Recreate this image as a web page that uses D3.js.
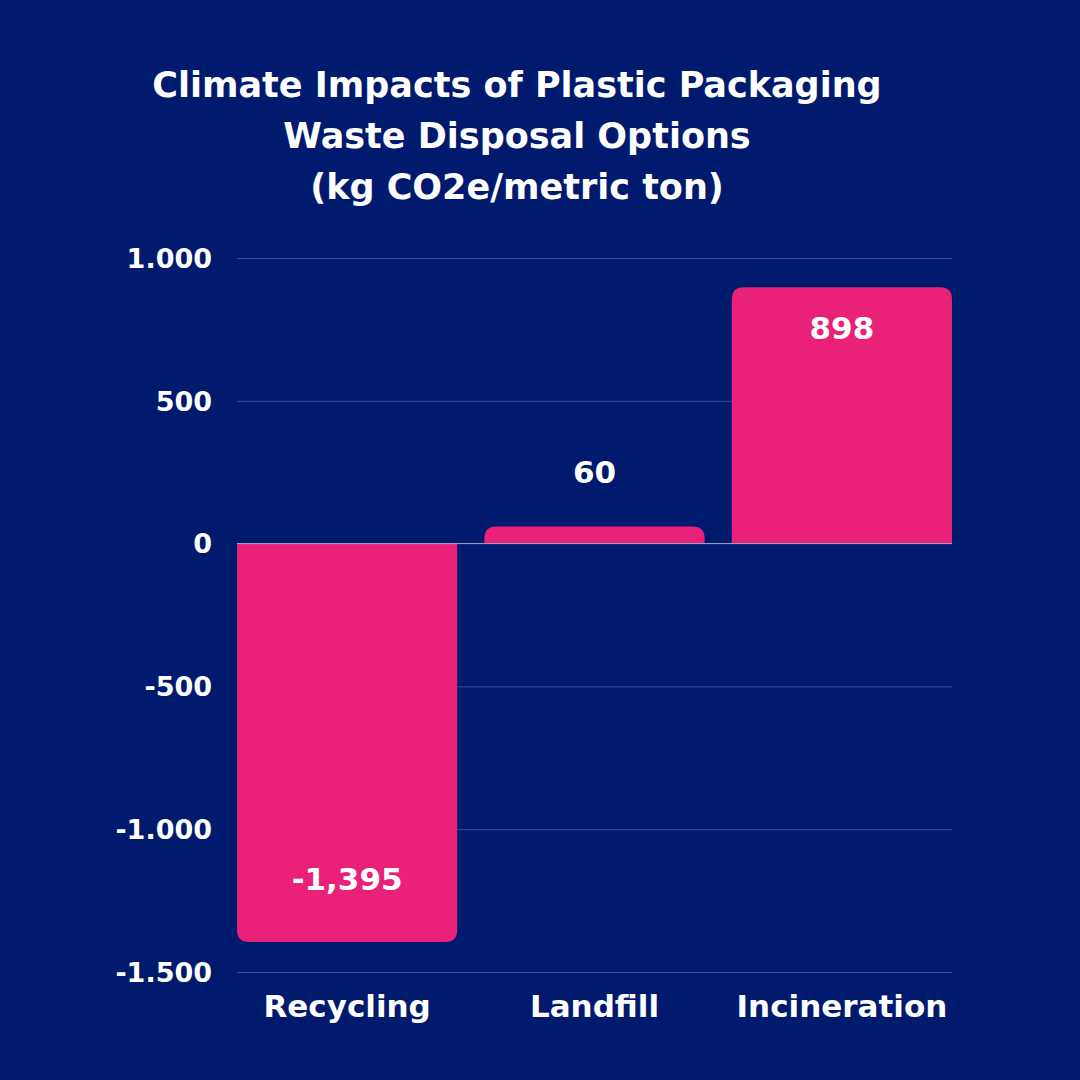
<!DOCTYPE html>
<html>
<head>
<meta charset="utf-8">
<script src="https://cdn.jsdelivr.net/npm/d3@7"></script>
<style>
  html, body { margin: 0; padding: 0; background: #001a6e; }
  svg { display: block; font-family: "DejaVu Sans", sans-serif; }
</style>
</head>
<body>
<div id="chart"></div>
<script>
var categories = ["Recycling", "Landfill", "Incineration"];
var values = [-1395, 60, 898];
var value_labels = ["-1,395", "60", "898"];
var y_ticks = [1000, 500, 0, -500, -1000, -1500];
var y_tick_labels = ["1.000", "500", "0", "-500", "-1.000", "-1.500"];
var title_lines = ["Climate Impacts of Plastic Packaging", "Waste Disposal Options", "(kg CO2e/metric ton)"];

var width = 1080, height = 1080;
var margin = {top: 258, right: 128, bottom: 108, left: 237};
var bg = "#001a6e", bar_color = "#ea2178";

var svg = d3.select("#chart").append("svg")
    .attr("width", width)
    .attr("height", height);

svg.append("rect").attr("width", width).attr("height", height).attr("fill", bg);

// title
svg.append("g").selectAll("text").data(title_lines)
    .enter().append("text")
    .attr("x", 517)
    .attr("y", (d, i) => 97 + i * 51)
    .attr("text-anchor", "middle")
    .attr("fill", "white")
    .style("font-size", "35px")
    .style("font-weight", 700)
    .text(d => d);

var x = d3.scaleBand()
    .domain(categories)
    .range([margin.left, width - margin.right])
    .paddingInner(0.11)
    .paddingOuter(0);

var y = d3.scaleLinear()
    .domain([-1500, 1000])
    .range([height - margin.bottom, margin.top]);

// gridlines
svg.append("g").selectAll("line").data(y_ticks.filter(t => t != 0))
    .enter().append("line")
    .attr("x1", margin.left)
    .attr("x2", width - margin.right)
    .attr("y1", d => y(d) + 0.5)
    .attr("y2", d => y(d) + 0.5)
    .attr("stroke", "#3b4c99")
    .attr("stroke-width", 1);

// y tick labels
svg.append("g").selectAll("text").data(y_ticks)
    .enter().append("text")
    .attr("x", 212)
    .attr("y", d => y(d))
    .attr("dy", "0.36em")
    .attr("text-anchor", "end")
    .attr("fill", "white")
    .style("font-size", "27px")
    .style("font-weight", 700)
    .text((d, i) => y_tick_labels[i]);

// bars, rounded at the far end only
var r = 12;
function bar_path(d, i){
    let x0 = x(categories[i]), x1 = x0 + x.bandwidth();
    let y0 = y(0), y1 = y(d);
    let rr = Math.min(r, Math.abs(y1 - y0));
    let s = y1 < y0 ? 1 : -1;
    return "M" + x0 + "," + y0 +
        "L" + x0 + "," + (y1 + s * rr) +
        "Q" + x0 + "," + y1 + " " + (x0 + rr) + "," + y1 +
        "L" + (x1 - rr) + "," + y1 +
        "Q" + x1 + "," + y1 + " " + x1 + "," + (y1 + s * rr) +
        "L" + x1 + "," + y0 + "Z";
}

svg.append("g").selectAll("path").data(values)
    .enter().append("path")
    .attr("d", bar_path)
    .attr("fill", bar_color);

// zero line
svg.append("line")
    .attr("x1", margin.left)
    .attr("x2", width - margin.right)
    .attr("y1", y(0))
    .attr("y2", y(0))
    .attr("stroke", "#a9a9c6")
    .attr("stroke-width", 1);

// value labels
svg.append("g").selectAll("text").data(values)
    .enter().append("text")
    .attr("x", (d, i) => x(categories[i]) + x.bandwidth() / 2)
    .attr("y", d => {
        if(d < 0) return y(d) - 63;
        if(y(0) - y(d) < 60) return y(d) - 55;
        return y(d) + 41;
    })
    .attr("dy", "0.36em")
    .attr("text-anchor", "middle")
    .attr("fill", "white")
    .style("font-size", "31px")
    .style("font-weight", 700)
    .text((d, i) => value_labels[i]);

// category labels
svg.append("g").selectAll("text").data(categories)
    .enter().append("text")
    .attr("x", d => x(d) + x.bandwidth() / 2)
    .attr("y", 1006)
    .attr("dy", "0.36em")
    .attr("text-anchor", "middle")
    .attr("fill", "white")
    .style("font-size", "31px")
    .style("font-weight", 700)
    .text(d => d);
</script>
</body>
</html>
